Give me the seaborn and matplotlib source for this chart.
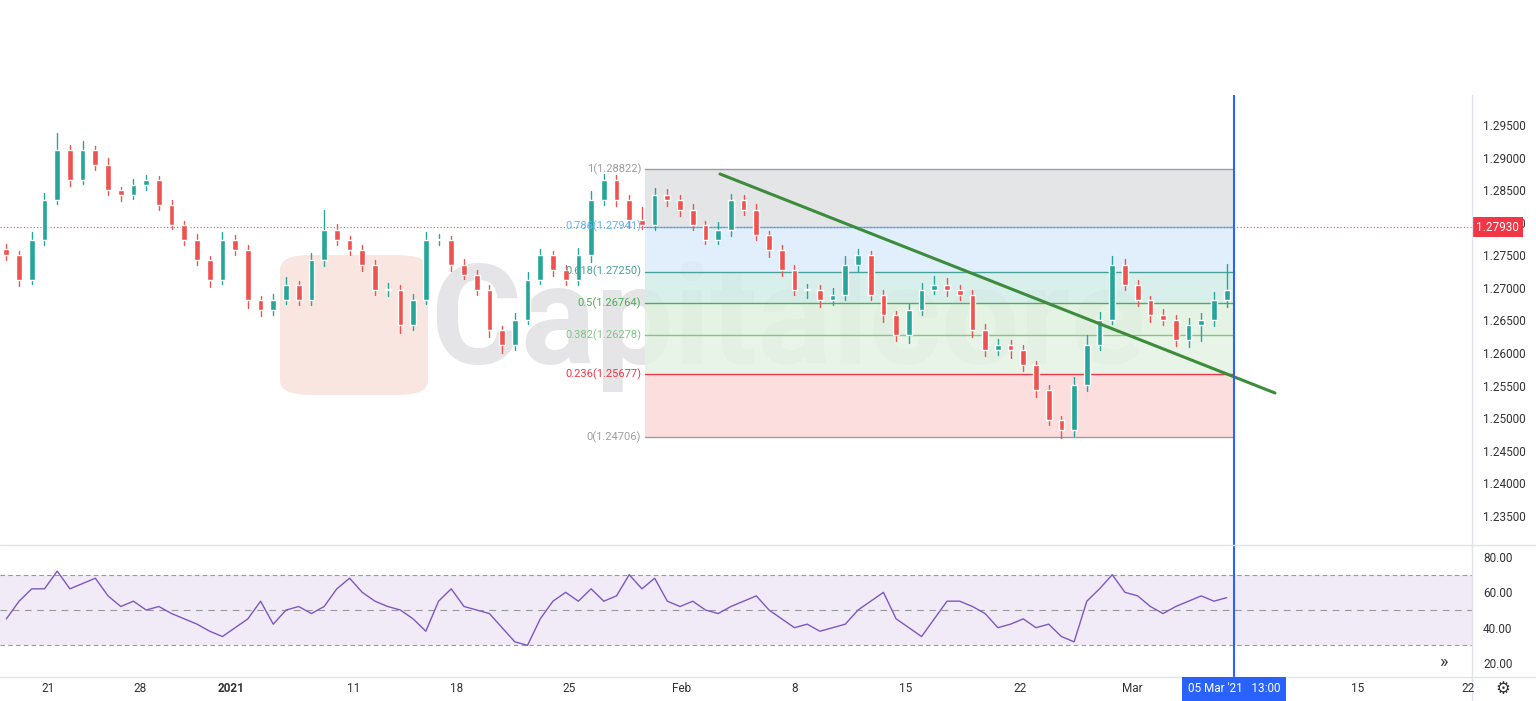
import numpy as np
import matplotlib
matplotlib.use("Agg")
import matplotlib.pyplot as plt
import seaborn as sns
from matplotlib.patches import FancyBboxPatch

# price closes (one candle per ~13 px)
closes = [1.2750, 1.2712, 1.2774, 1.2835, 1.2912, 1.2866, 1.2912, 1.2889, 1.2850, 1.2843,
          1.2858, 1.2866, 1.2827, 1.2797, 1.2774, 1.2743, 1.2712, 1.2774, 1.2758, 1.2681,
          1.2666, 1.2681, 1.2704, 1.2681, 1.2743, 1.2789, 1.2774, 1.2758, 1.2735, 1.2697,
          1.2697, 1.2643, 1.2681, 1.2774, 1.2774, 1.2735, 1.2720, 1.2697, 1.2635, 1.2612,
          1.2651, 1.2712, 1.2750, 1.2727, 1.2712, 1.2750, 1.2835, 1.2866, 1.2835, 1.2804,
          1.2797, 1.2843, 1.2835, 1.2820, 1.2797, 1.2774, 1.2789, 1.2835, 1.2820, 1.2781,
          1.2758, 1.2727, 1.2697, 1.2697, 1.2681, 1.2689, 1.2735, 1.2750, 1.2689, 1.2658,
          1.2628, 1.2666, 1.2697, 1.2704, 1.2697, 1.2689, 1.2635, 1.2605, 1.2612, 1.2605,
          1.2582, 1.2543, 1.2497, 1.2482, 1.2551, 1.2612, 1.2651, 1.2735, 1.2704, 1.2681,
          1.2658, 1.2651, 1.2620, 1.2643, 1.2651, 1.2681, 1.2697]
wick_up = [8, 6, 12, 10, 25, 8, 14, 6, 10, 5, 9, 7, 6, 8, 5, 9, 6, 11, 7, 8,
           6, 9, 12, 7, 10, 30, 9, 6, 7, 8, 10, 7, 9, 12, 8, 6, 9, 7, 8, 6,
           10, 12, 9, 7, 8, 11, 14, 9, 7, 8, 20, 10, 9, 7, 8, 6, 12, 9, 7, 8,
           6, 7, 8, 9, 7, 10, 14, 10, 6, 8, 7, 9, 10, 14, 11, 8, 7, 9, 10, 8,
           7, 6, 8, 7, 12, 15, 12, 14, 9, 8, 7, 9, 8, 10, 11, 12, 40]
wick_dn = [7, 9, 6, 8, 7, 10, 6, 8, 7, 9, 6, 8, 7, 6, 9, 8, 10, 6, 8, 12,
           9, 7, 6, 8, 7, 9, 8, 7, 9, 8, 10, 12, 7, 6, 8, 9, 7, 8, 10, 12,
           8, 7, 6, 9, 8, 7, 10, 8, 9, 12, 7, 8, 9, 10, 8, 7, 6, 9, 8, 7,
           10, 9, 8, 12, 10, 8, 7, 9, 8, 10, 9, 12, 8, 7, 9, 8, 10, 9, 8, 12,
           9, 10, 8, 12, 10, 9, 8, 7, 8, 9, 10, 8, 9, 11, 25, 9, 10]
rsi = [45, 55, 62, 62, 72, 62, 65, 68, 58, 52, 55, 50, 52, 48, 45, 42, 38, 35, 40, 45,
       55, 42, 50, 52, 48, 52, 62, 68, 60, 55, 52, 50, 45, 38, 55, 62, 52, 50, 48, 40,
       32, 30, 45, 55, 60, 55, 62, 55, 58, 70, 62, 68, 55, 52, 55, 50, 48, 52, 55, 58,
       50, 45, 40, 42, 38, 40, 42, 50, 55, 60, 45, 40, 35, 45, 55, 55, 52, 48, 40, 42,
       45, 40, 42, 35, 32, 55, 62, 70, 60, 58, 52, 48, 52, 55, 58, 55, 57]

fib_ratios = [1, 0.786, 0.618, 0.5, 0.382, 0.236, 0]
fib_prices = [1.28822, 1.27941, 1.27250, 1.26764, 1.26278, 1.25677, 1.24706]
fib_colors = ["#9e9e9e", "#64b5f6", "#4aa39b", "#4caf50", "#81c784", "#f23645", "#9e9e9e"]
fib_fills = ["#e0e1e3", "#dcecfb", "#d3ede9", "#e0f1df", "#e6f3e5", "#fcd9d9"]

date_labels = ["21", "28", "2021", "11", "18", "25", "Feb", "8", "15", "22", "Mar", "15", "22"]
date_pos = [48, 140, 231, 354, 457, 569, 682, 795, 906, 1020, 1132, 1358, 1468]
price_ticks = [1.235, 1.240, 1.245, 1.250, 1.255, 1.260, 1.265, 1.270, 1.275, 1.280,
               1.285, 1.290, 1.295]
rsi_ticks = [20, 40, 60, 80]
last_price = 1.27930
trend_x = [720, 1275]
trend_y = [1.28748, 1.25386]
fib_x = [645, 1233]
cursor_x = 1234

sns.set_style("white")
plt.rcParams['font.family'] = ['Roboto', 'DejaVu Sans']

W, H = 1536, 701
fig = plt.figure(figsize=(W / 100, H / 100), dpi=100)
right = 1472 / W

# watermark first, behind the transparent axes
fig.add_artist(FancyBboxPatch((280 / W, (H - 395) / H), 148 / W, 140 / H,
                              boxstyle="round,pad=0,rounding_size=0.02",
                              fc="#f4c9bd", ec="none", alpha=0.45, zorder=-2))
fig.text(430 / W, (H - 325) / H, "Capitalcore", fontsize=100, color="#d5d5d8",
         alpha=0.6, ha="left", va="center", fontweight="bold", zorder=-2)

ax = fig.add_axes([0, (H - 545) / H, right, 450 / H])
ax2 = fig.add_axes([0, (H - 677) / H, right, 132 / H])

n = len(closes)
step = 1233 / n
xs = np.arange(n) * step + step / 2
opens = [closes[0] + 0.0010] + closes[:-1]
up_c, dn_c = "#26a69a", "#ef5350"
for i in range(n):
    o, c = opens[i], closes[i]
    col = up_c if c >= o else dn_c
    hi = max(o, c) + wick_up[i] * 0.0001
    lo = min(o, c) - wick_dn[i] * 0.0001
    ax.plot([xs[i], xs[i]], [lo, hi], color=col, lw=1, zorder=3)
    ax.bar(xs[i], max(abs(c - o), 0.00008), bottom=min(o, c), width=step * 0.45,
           color=col, zorder=4)

# fib retracement
for k in range(len(fib_fills)):
    ax.fill_between(fib_x, fib_prices[k + 1], fib_prices[k], color=fib_fills[k],
                    alpha=0.85, zorder=1, lw=0)
for r, p, col in zip(fib_ratios, fib_prices, fib_colors):
    ax.plot(fib_x, [p, p], color=col, lw=1, zorder=2)
    ax.text(fib_x[0] - 4, p, f"{r}({p:.5f})", color=col, fontsize=8, ha="right", va="center", zorder=6)

ax.plot(trend_x, trend_y, color="#3c8c3c", lw=2.2, zorder=5)
ax.axhline(last_price, color="#ef5350", lw=0.8, ls=(0, (1, 2)), zorder=2)

for a in (ax, ax2):
    a.patch.set_alpha(0)
    a.set_xlim(0, 1472)
    a.axvline(cursor_x, color="#2962ff", lw=1.5, zorder=7)
    a.set_xticks([])
    a.yaxis.tick_right()
    for s in a.spines.values():
        s.set_visible(False)
    a.tick_params(axis="y", length=0, labelsize=8.5, labelcolor="#333333", pad=8)

ax.set_ylim(1.23053, 1.29960)
ax.set_yticks(price_ticks)
ax.set_yticklabels([f"{t:.5f}" for t in price_ticks])
ax.text(1.003, last_price, f"{last_price:.5f}", transform=ax.get_yaxis_transform(),
        color="white", fontsize=8.5, va="center", ha="left",
        bbox=dict(boxstyle="square,pad=0.3", fc="#f23645", ec="none"), clip_on=False)

# rsi panel
ax2.set_ylim(12.1, 86.8)
ax2.axhspan(30, 70, color="#ede7f6", alpha=0.8, lw=0)
for lv in (30, 50, 70):
    ax2.axhline(lv, color="#999999", lw=0.8, ls=(0, (4, 3)) if lv != 50 else (0, (6, 5)))
ax2.plot(xs, rsi, color="#7e57c2", lw=1)
ax2.set_yticks(rsi_ticks)
ax2.set_yticklabels([f"{t:.2f}" for t in rsi_ticks])

# separators
fig.add_artist(plt.Line2D([0, 1], [(H - 545) / H] * 2, color="#e0e3eb", lw=1))
fig.add_artist(plt.Line2D([0, 1], [(H - 677) / H] * 2, color="#e0e3eb", lw=1))
fig.add_artist(plt.Line2D([right, right], [0, (H - 95) / H], color="#e0e3eb", lw=1))

for lab, px in zip(date_labels, date_pos):
    fig.text(px / W, (H - 689) / H, lab, fontsize=8.5, ha="center", va="center",
             color="#333333", fontweight="bold" if lab == "2021" else "normal")
fig.text(cursor_x / W, (H - 689) / H, "05 Mar '21   13:00", fontsize=8.5, color="white",
         ha="center", va="center", bbox=dict(boxstyle="square,pad=0.45", fc="#2962ff", ec="none"))
fig.text(1503 / W, (H - 689) / H, "\u2699", fontsize=12, ha="center", va="center", color="#333333")
fig.text(1443 / W, (H - 662) / H, "\u00bb", fontsize=13, ha="center", va="center", color="#333333")

fig.savefig("out.png", dpi=100)
